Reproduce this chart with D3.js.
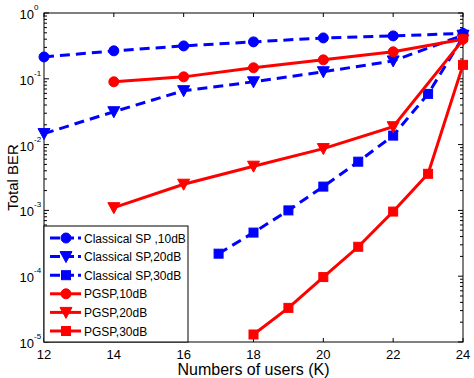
<!DOCTYPE html>
<html><head><meta charset="utf-8">
<script src="https://cdn.jsdelivr.net/npm/d3@7"></script>
<style>body{margin:0;background:#fff}svg{display:block}text{font-family:"Liberation Sans",Arial,sans-serif}</style>
</head><body><svg id="c" width="474" height="378"></svg>
<script>
const xTicks = [12,14,16,18,20,22,24];
const yTickExps = [0,-1,-2,-3,-4,-5];
const seriesNames = ["Classical SP ,10dB","Classical SP,20dB","Classical SP,30dB","PGSP,10dB","PGSP,20dB","PGSP,30dB"];
const csp10x = [12,14,16,18,20,22,24];
const csp10y = [0.215,0.266,0.316,0.364,0.418,0.449,0.49];
const csp20x = [12,14,16,18,20,22,24];
const csp20y = [0.0147,0.0316,0.066,0.090,0.128,0.187,0.46];
const csp30x = [17,18,19,20,21,22,23,24];
const csp30y = [2.2e-4,4.6e-4,1.0e-3,2.3e-3,5.5e-3,0.0137,0.059,0.43];
const pg10x = [14,16,18,20,22,24];
const pg10y = [0.090,0.107,0.147,0.194,0.257,0.40];
const pg20x = [14,16,18,20,22,24];
const pg20y = [1.1e-3,2.5e-3,4.7e-3,8.7e-3,0.0187,0.39];
const pg30x = [18,19,20,21,22,23,24];
const pg30y = [1.3e-5,3.3e-5,9.7e-5,2.8e-4,9.6e-4,3.6e-3,0.163];

const svg = d3.select("#c");
const L=44,T=13,R=463,B=342;
const x = d3.scaleLinear().domain([12,24]).range([L,R]);
const y = d3.scaleLog().domain([1e-5,1]).range([B,T]);

const blue="#0000ff", red="#ff0000";
const series = [
 {n:seriesNames[0],xs:csp10x,ys:csp10y,c:blue,dash:"10,6",m:"circle"},
 {n:seriesNames[1],xs:csp20x,ys:csp20y,c:blue,dash:"10,6",m:"tri"},
 {n:seriesNames[2],xs:csp30x,ys:csp30y,c:blue,dash:"10,6",m:"square"},
 {n:seriesNames[3],xs:pg10x,ys:pg10y,c:red,dash:null,m:"circle"},
 {n:seriesNames[4],xs:pg20x,ys:pg20y,c:red,dash:null,m:"tri"},
 {n:seriesNames[5],xs:pg30x,ys:pg30y,c:red,dash:null,m:"square"},
];

svg.append("rect").attr("x",L).attr("y",T).attr("width",R-L).attr("height",B-T).attr("fill","none").attr("stroke","#000").attr("stroke-width",1);

const g = svg.append("g");
xTicks.forEach(t=>{
  g.append("line").attr("x1",x(t)).attr("x2",x(t)).attr("y1",B).attr("y2",B-4).attr("stroke","#000");
  g.append("line").attr("x1",x(t)).attr("x2",x(t)).attr("y1",T).attr("y2",T+4).attr("stroke","#000");
  g.append("text").attr("x",x(t)).attr("y",B+17).attr("text-anchor","middle").attr("font-size",13).text(t);
});
yTickExps.forEach(e=>{
  const v=Math.pow(10,e);
  g.append("line").attr("x1",L).attr("x2",L+5).attr("y1",y(v)).attr("y2",y(v)).attr("stroke","#000");
  g.append("line").attr("x1",R).attr("x2",R-5).attr("y1",y(v)).attr("y2",y(v)).attr("stroke","#000");
  g.append("text").attr("x",L-10).attr("y",y(v)+6).attr("text-anchor","end").attr("font-size",13).text("10");
  g.append("text").attr("x",L-10).attr("y",y(v)-3).attr("font-size",8).text(e);
  if(e>-5){
    for(let k=2;k<=9;k++){
      const mv=k*Math.pow(10,e-1);
      g.append("line").attr("x1",L).attr("x2",L+3).attr("y1",y(mv)).attr("y2",y(mv)).attr("stroke","#000");
      g.append("line").attr("x1",R).attr("x2",R-3).attr("y1",y(mv)).attr("y2",y(mv)).attr("stroke","#000");
    }
  }
});
svg.append("text").attr("transform",`translate(18,${(T+B)/2}) rotate(-90)`).attr("text-anchor","middle").attr("font-size",15).text("Total BER");
svg.append("text").attr("x",(L+R)/2).attr("y",375).attr("text-anchor","middle").attr("font-size",16).text("Numbers of users (K)");

function marker(sel,m,cx,cy,c){
  if(m==="circle") sel.append("circle").attr("cx",cx).attr("cy",cy).attr("r",5).attr("fill",c).attr("stroke",c);
  else if(m==="square") sel.append("rect").attr("x",cx-4.5).attr("y",cy-4.5).attr("width",9).attr("height",9).attr("fill",c).attr("stroke",c);
  else sel.append("path").attr("d",`M${cx-6},${cy-5}L${cx+6},${cy-5}L${cx},${cy+6}Z`).attr("fill",c).attr("stroke",c);
}

const line = d3.line().x(d=>x(d[0])).y(d=>y(d[1]));
const plot = svg.append("g");
series.forEach(s=>{
  const pts = s.xs.map((v,i)=>[v,s.ys[i]]);
  plot.append("path").attr("d",line(pts)).attr("fill","none").attr("stroke",s.c).attr("stroke-width",3).attr("stroke-dasharray",s.dash);
  pts.forEach(p=>marker(plot,s.m,x(p[0]),y(p[1]),s.c));
});

const lg = svg.append("g");
lg.append("rect").attr("x",L).attr("y",226).attr("width",188-L).attr("height",B-226).attr("fill","#fff").attr("stroke","#000");
series.forEach((s,i)=>{
  const ly=238+i*18.6;
  lg.append("line").attr("x1",50).attr("x2",81).attr("y1",ly).attr("y2",ly).attr("stroke",s.c).attr("stroke-width",3).attr("stroke-dasharray",s.dash?"10,4":null);
  marker(lg,s.m,66,ly,s.c);
  lg.append("text").attr("x",84).attr("y",ly+4.5).attr("font-size",12).text(s.n);
});
</script></body></html>
